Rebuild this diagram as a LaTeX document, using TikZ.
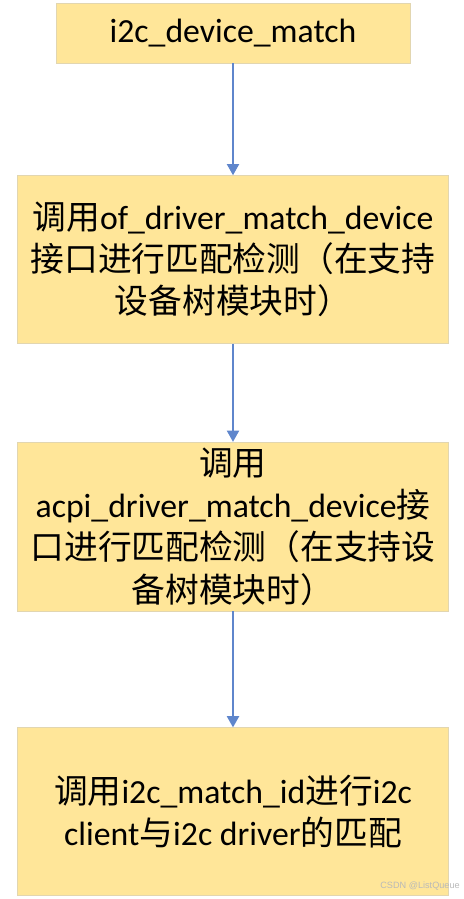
\documentclass[tikz,border=0pt]{standalone}
\usepackage{fontspec}
\setmainfont{Carlito}
\setsansfont{Liberation Sans}
\newfontfamily\cjk{Noto Sans CJK SC}
\newcommand{\zh}[1]{{\cjk #1}}
\usetikzlibrary{positioning,arrows.meta}

\definecolor{boxfill}{HTML}{FFE699}
\definecolor{boxline}{HTML}{E2D6B0}
\definecolor{flowblue}{HTML}{5F86CC}

\tikzset{
  stepbox/.style={draw=boxline,thin,fill=boxfill,align=center,inner sep=0pt,
    minimum width=10.775cm,minimum height=4.2cm,font=\fontsize{24}{30}\selectfont},
  flow/.style={flowblue,line width=1.4pt,-{Triangle[width=0.3cm,length=0.28cm]}}
}

\begin{document}
\begin{tikzpicture}

% Frame
\useasboundingbox (0,0) rectangle (11.6,22.475);

% Nodes
\node[stepbox,minimum width=8.85cm,minimum height=1.5cm] (devmatch) at (5.825,21.65) {i2c\_device\_match};
\node[stepbox,below=2.8cm of devmatch] (ofmatch)
  {\zh{调用}of\_driver\_match\_device\\ \zh{接口进行匹配检测（在支持}\\ \zh{设备树模块时）}};
\node[stepbox,below=2.45cm of ofmatch,minimum height=4.225cm] (acpimatch)
  {\zh{调用}\\ acpi\_driver\_match\_device\zh{接}\\ \zh{口进行匹配检测（在支持设}\\ \zh{备树模块时）}};
\node[stepbox,below=2.9cm of acpimatch] (idmatch)
  {\zh{调用}i2c\_match\_id\zh{进行}i2c\\ client\zh{与}i2c driver\zh{的匹配}};

% Lines
\draw[flow] (devmatch) -- (ofmatch);
\draw[flow] (ofmatch) -- (acpimatch);
\draw[flow] (acpimatch) -- (idmatch);

% Watermark
\node[anchor=east,inner sep=0pt,text=gray!55,font=\sffamily\fontsize{6.5}{7}\selectfont] (mark) at (11.5,0.33) {CSDN @ListQueue};

\end{tikzpicture}
\end{document}
